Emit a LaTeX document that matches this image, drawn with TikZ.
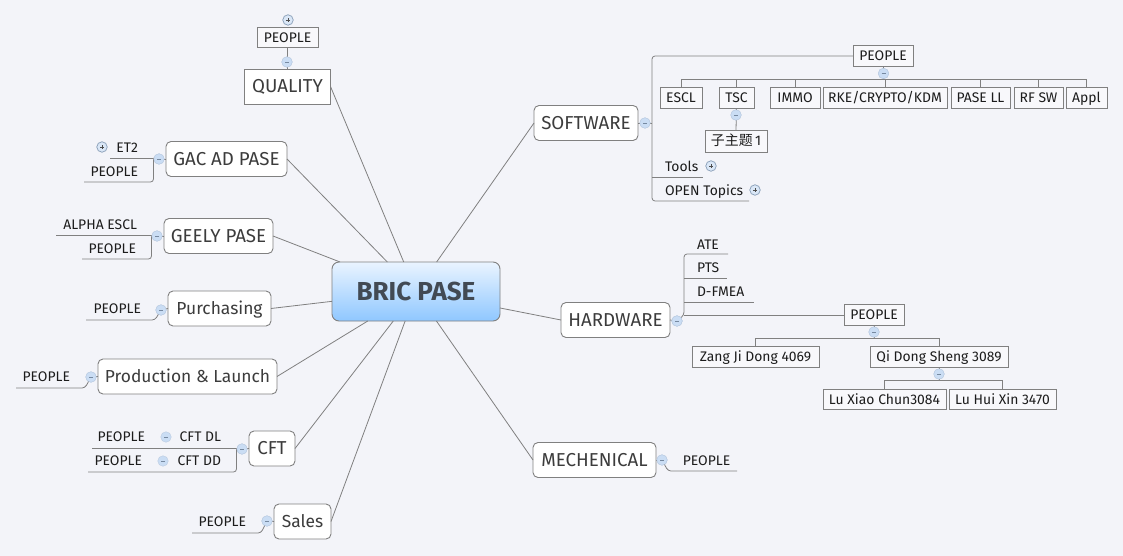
\documentclass[tikz,border=0pt]{standalone}
\usepackage{fontspec}
\setmainfont{Fira Sans}
\newfontfamily\cjkf{Noto Sans CJK SC}
\definecolor{bgc}{HTML}{F3F4F9}
\definecolor{linec}{HTML}{808080}
\definecolor{topicc}{HTML}{3C3C3C}
\definecolor{rootc}{HTML}{424A54}
\definecolor{subc}{HTML}{1C1C1C}
\definecolor{btnc}{HTML}{CADDF4}
\definecolor{btne}{HTML}{A9C4E4}
\definecolor{rootA}{HTML}{EAF4FF}
\definecolor{rootB}{HTML}{8FC7FF}
\tikzset{
  base/.style={inner sep=0pt,outer sep=0pt,text depth=0pt,align=center},
  rootbox/.style={base,draw=linec,line width=.9pt,rounded corners=7pt,top color=rootA,bottom color=rootB,text=rootc,text height=18pt,font=\bfseries\fontsize{26}{26}\selectfont},
  branch/.style={base,draw=linec,line width=.9pt,rounded corners=5pt,fill=white,text=topicc,text height=12.9pt,font=\fontsize{18.7}{19}\selectfont,minimum height=35},
  lowbranch/.style={branch,text height=12pt,font=\fontsize{17.4}{18}\selectfont},
  sqbranch/.style={branch,rounded corners=0pt},
  subbox/.style={base,draw=linec,line width=.8pt,fill=bgc!60!white,text=subc,text height=9.6pt,font=\fontsize{13.9}{14}\selectfont,minimum height=20.5},
  sublabel/.style={base,text=subc,text height=9.6pt,yshift=-.8pt,font=\fontsize{13.9}{14}\selectfont},
  conn/.style={draw=linec,line width=.8pt},
  tree/.style={draw=linec,line width=.8pt,rounded corners=3pt},
  minusbtn/.style={circle,inner sep=0pt,outer sep=0pt,minimum size=10.5,fill=btnc,draw=btnc!92!black,line width=.4pt,
    path picture={\draw[line width=.6pt,draw=btne!70!black] ([xshift=-2pt]path picture bounding box.center) -- ([xshift=2pt]path picture bounding box.center);}},
  plusbtn/.style={circle,inner sep=0pt,outer sep=0pt,minimum size=10.5,fill=btnc!70!white,draw=btne!80!black,line width=.7pt,
    path picture={\draw[line width=.6pt,draw=black!70] ([xshift=-2pt]path picture bounding box.center) -- ([xshift=2pt]path picture bounding box.center) ([yshift=-2pt]path picture bounding box.center) -- ([yshift=2pt]path picture bounding box.center);}},
}
\begin{document}
\begin{tikzpicture}[x=1pt,y=-1pt]
\useasboundingbox (0,0) rectangle (1123,556);
\fill[bgc] (0,0) rectangle (1123,556);

% ---- nodes
\node[rootbox,minimum width=168,minimum height=59] (root) at (416,291.5) {BRIC PASE};
\node[sqbranch,minimum width=86] (quality) at (287.5,86.5) {QUALITY};
\node[branch,minimum width=121] (gac) at (226.5,159) {GAC AD PASE};
\node[branch,minimum width=109] (geely) at (218.5,236) {GEELY PASE};
\node[lowbranch,minimum width=103] (purch) at (219.5,308.5) {Purchasing};
\node[lowbranch,minimum width=179] (prod) at (187.5,376.5) {Production \& Launch};
\node[branch,minimum width=46] (cft) at (272,448.5) {CFT};
\node[lowbranch,minimum width=57] (sales) at (302.5,521.5) {Sales};
\node[branch,minimum width=104] (soft) at (586,123) {SOFTWARE};
\node[branch,minimum width=109] (hard) at (615.5,320) {HARDWARE};
\node[branch,minimum width=123] (mech) at (594.5,460) {MECHENICAL};

% ---- main connectors
\foreach \n/\a in {quality/east,gac/east,geely/east,purch/east,prod/east,cft/east,sales/east,soft/west,hard/west,mech/west}
  \draw[conn] (\n.\a) -- (root);

% ---- quality
\node[subbox,minimum width=61] (qp) at (287.5,37.5) {PEOPLE};
\node[plusbtn] (qplus) at (288,20) {};
\node[minusbtn] (qminus) at (287,62) {};
\draw[conn] (quality.north -| qminus) -- (qminus) -- (qp.south -| qminus);

% ---- software
\node[subbox,minimum width=60] (sp) at (883,56) {PEOPLE};
\node[minusbtn] (sminus) at (645,123) {};
\node[minusbtn] (spminus) at (883.5,73.5) {};
\coordinate (sbus) at (883.5,79);
\node[subbox,minimum width=42] (escl) at (681,98) {ESCL};
\node[subbox,minimum width=35] (tsc) at (736.5,98) {TSC};
\node[subbox,minimum width=50] (immo) at (795,98) {IMMO};
\node[subbox,minimum width=124] (rke) at (885,98) {RKE/CRYPTO/KDM};
\node[subbox,minimum width=59] (pasell) at (980.5,98) {PASE LL};
\node[subbox,minimum width=49] (rfsw) at (1038.5,98) {RF SW};
\node[subbox,minimum width=41] (appl) at (1086.5,98) {Appl};
\node[minusbtn] (tscminus) at (736,115) {};
\node[subbox,minimum width=62,minimum height=22] (zzt) at (736,141) {{\cjkf 子主题}\,1};
\node[sublabel,anchor=west] (tools) at (665,166) {Tools};
\node[plusbtn] (toolsplus) at (711,166) {};
\node[sublabel,anchor=west] (open) at (665,190) {OPEN Topics};
\node[plusbtn] (openplus) at (755,190) {};
\coordinate (tu) at (703,177);
\coordinate (ou) at (749,201);
\draw[conn] (soft.east) -- (sminus);
\draw[tree] (sp.west) -- (652,56) -- (652,201) -- (ou);
\draw[conn] (652,177) -- (tu);
\draw[conn] (sminus) -- (652,123);
\draw[conn] (sp.south -| spminus) -- (sbus);
\draw[conn] (escl.north) |- (sbus);
\draw[conn] (appl.north) |- (sbus);
\foreach \n in {tsc,immo,rke,pasell,rfsw} \draw[conn] (\n.north) -- (\n.north |- sbus);
\draw[conn] (tsc.south) -- (zzt.north);
\node[minusbtn] at (tscminus) {};
\node[minusbtn] at (spminus) {};

% ---- hardware
\node[sublabel,anchor=west] (ate) at (697,243.5) {ATE};
\node[sublabel,anchor=west] (pts) at (697,267) {PTS};
\node[sublabel,anchor=west] (dfmea) at (697,291) {D-FMEA};
\coordinate (au) at (728,254);
\coordinate (pu) at (727,278);
\coordinate (du) at (754,302);
\node[subbox,minimum width=60] (hp) at (874,315) {PEOPLE};
\node[minusbtn] (hminus) at (677,321) {};
\node[minusbtn] (hpminus) at (874,332) {};
\coordinate (hbus) at (874,338);
\node[subbox,minimum width=127] (zang) at (755.5,357) {Zang Ji Dong 4069};
\node[subbox,minimum width=138] (qi) at (939,357) {Qi Dong Sheng 3089};
\node[minusbtn] (qiminus) at (939,374) {};
\coordinate (qbus) at (939,380);
\node[subbox,minimum width=123] (lux) at (884.5,399.5) {Lu Xiao Chun3084};
\node[subbox,minimum width=107] (luh) at (1002.5,399.5) {Lu Hui Xin 3470};
\draw[conn] (hard.east) -- (hminus);
\draw[tree] (hminus.center) -- (684,315) -- (684,254) -- (au);
\draw[conn] (684,278) -- (pu);
\draw[conn] (684,302) -- (du);
\draw[conn] (684,315) -- (hp.west);
\draw[conn] (hp.south) -- (hbus);
\draw[conn] (zang.north) |- (hbus);
\draw[conn] (qi.north) |- (hbus);
\draw[conn] (qi.south) -- (qbus);
\draw[conn] (lux.north) |- (qbus);
\draw[conn] (luh.north) |- (qbus);
\node[minusbtn] at (hminus) {};
\node[minusbtn] at (hpminus) {};
\node[minusbtn] at (qiminus) {};

% ---- mechenical
\node[minusbtn] (mminus) at (662,460) {};
\node[sublabel] (mp) at (706.5,459.5) {PEOPLE};
\coordinate (mu) at (737,471);
\draw[conn] (mech.east) -- (mminus);
\draw[tree] (mminus.center) -- (668,471) -- (mu);

% ---- gac
\node[minusbtn] (gminus) at (159,159) {};
\node[sublabel,anchor=east] (et2) at (138,147) {ET2};
\node[plusbtn] (etplus) at (102,147) {};
\node[sublabel,anchor=east] (gp) at (138,171) {PEOPLE};
\coordinate (gu1) at (110,158);
\coordinate (gu2) at (84,182);
\draw[conn] (gac.west) -- (gminus);
\draw[conn] (gminus) -- (gu1 -| gminus) -- (gu1);
\draw[tree] (153.5,158) -- (153.5,182) -- (gu2);

% ---- geely
\node[minusbtn] (geminus) at (157,236) {};
\node[sublabel,anchor=east] (alpha) at (137,224) {ALPHA ESCL};
\node[sublabel,anchor=east] (gep) at (136,248) {PEOPLE};
\coordinate (geu1) at (56,235);
\coordinate (geu2) at (82,259);
\draw[conn] (geely.west) -- (geminus);
\draw[conn] (geminus) -- (geu1 -| geminus) -- (geu1);
\draw[tree] (151.5,235) -- (151.5,259) -- (geu2);

% ---- purchasing
\node[minusbtn] (puminus) at (161,310) {};
\node[sublabel,anchor=east] (pup) at (141,308) {PEOPLE};
\coordinate (puu) at (86,320);
\draw[conn] (purch.west) -- (puminus);
\draw[tree] (puminus.center) -- (155,320) -- (puu);

% ---- production
\node[minusbtn] (prminus) at (91,377) {};
\node[sublabel,anchor=east] (prp) at (70,376) {PEOPLE};
\coordinate (pru) at (16,388);
\draw[conn] (prod.west) -- (prminus);
\draw[tree] (prminus.center) -- (85,388) -- (pru);

% ---- cft
\node[minusbtn] (cminus) at (242,449) {};
\node[sublabel,anchor=east] (cdl) at (221,436) {CFT DL};
\node[minusbtn] (cdlm) at (166,437) {};
\node[sublabel,anchor=east] (cdlp) at (145,436) {PEOPLE};
\node[sublabel,anchor=east] (cdd) at (221,460) {CFT DD};
\node[minusbtn] (cddm) at (163,461) {};
\node[sublabel,anchor=east] (cddp) at (142,460) {PEOPLE};
\coordinate (cu1) at (92,448);
\coordinate (cu2) at (88,472);
\draw[conn] (cft.west) -- (cminus);
\draw[conn] (cminus) -- (cu1 -| cminus) -- (cu1);
\draw[tree] (236.5,448) -- (236.5,472) -- (cu2);

% ---- sales
\node[minusbtn] (saminus) at (267,521) {};
\node[sublabel,anchor=east] (sap) at (246,521) {PEOPLE};
\coordinate (sau) at (192,533);
\draw[conn] (sales.west) -- (saminus);
\draw[tree] (saminus.center) -- (261,533) -- (sau);

% ---- buttons on top of their trees
\foreach \b in {sminus,hminus,mminus,gminus,geminus,puminus,prminus,cminus,saminus,qminus} \node[minusbtn] at (\b) {};
\end{tikzpicture}
\end{document}
